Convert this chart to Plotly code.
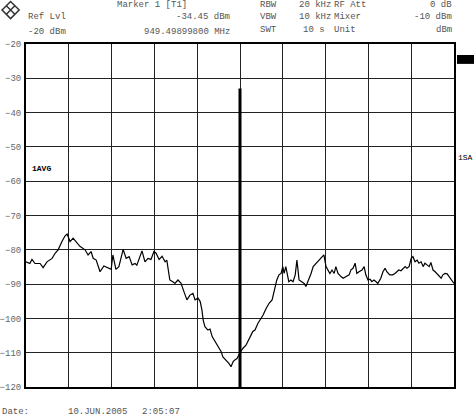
import plotly.graph_objects as go

# trace position in screen divisions (0..10) and level in dBm
div_x = [0.00, 0.09, 0.14, 0.21, 0.33, 0.40, 0.49, 0.61, 0.68, 0.75,
         0.84, 0.91, 0.96, 1.03, 1.10, 1.17, 1.26, 1.38, 1.45, 1.52,
         1.57, 1.64, 1.73, 1.82, 1.92, 1.99, 2.03, 2.10, 2.17, 2.27,
         2.34, 2.41, 2.48, 2.55, 2.59, 2.66, 2.71, 2.78, 2.85, 2.92,
         2.99, 3.04, 3.11, 3.18, 3.25, 3.29, 3.36, 3.43, 3.48, 3.55,
         3.62, 3.69, 3.76, 3.83, 3.90, 3.95, 4.02, 4.07, 4.11, 4.14,
         4.18, 4.25, 4.30, 4.35, 4.42, 4.49, 4.56, 4.60, 4.67, 4.74,
         4.79, 4.84, 4.88, 4.93,
         5.00, 5.07, 5.14, 5.21, 5.26, 5.30, 5.35, 5.42, 5.49, 5.54,
         5.61, 5.68, 5.75, 5.79, 5.84, 5.86, 5.91, 5.96, 6.00, 6.03,
         6.07, 6.10, 6.14, 6.19, 6.24, 6.29, 6.33, 6.38, 6.43, 6.50,
         6.54, 6.59, 6.66, 6.71, 6.78, 6.82, 6.87, 6.92, 6.96, 7.01,
         7.06, 7.10, 7.15, 7.20, 7.24, 7.29, 7.36, 7.41, 7.48, 7.55,
         7.59, 7.64, 7.69, 7.73, 7.78, 7.85, 7.90, 7.94, 7.99, 8.04,
         8.08, 8.13, 8.18, 8.22, 8.29, 8.34, 8.39, 8.43, 8.50, 8.57,
         8.62, 8.67, 8.71, 8.76, 8.81, 8.86, 8.90, 8.95, 9.00, 9.04,
         9.09, 9.14, 9.18, 9.23, 9.28, 9.32, 9.37, 9.42, 9.46, 9.51,
         9.56, 9.60, 9.65, 9.70, 9.74, 9.79, 9.84, 9.88, 9.93, 9.98,
         10.00]
level_dbm = [-83.5, -84, -82.8, -84, -84, -85.2, -83.5, -82.5, -81, -80,
             -77.6, -76, -75.4, -77.6, -76.6, -77.6, -79, -80, -81.5, -80.5,
             -82.5, -83, -86.4, -84.7, -85.4, -85.7, -81.5, -85.7, -84.9, -79.9,
             -82.5, -82, -84.4, -84, -84.5, -82, -80.3, -83.5, -82.5, -82.8,
             -80.5, -81, -82.8, -81.9, -83.5, -83, -88.8, -89.3, -89.8, -88.8,
             -89.7, -92.2, -94.6, -93.2, -92.7, -94.6, -94.1, -95.1, -97.5, -100.5,
             -102.4, -103.4, -103.1, -105.3, -106.8, -108.2, -109.7, -111.2, -112.1, -113.1,
             -114.1, -112.6, -112.1, -111.7,
             -110, -108.7, -107.8, -105.8, -104.8, -103.8, -103.4, -101.4, -100, -99,
             -97.1, -95.6, -94.6, -92.3, -90.3, -88.8, -87.3, -86.9, -84.9, -86.9,
             -84.9, -87.3, -89.3, -88.8, -89.3, -87.3, -83, -88.8, -89.3, -89.8,
             -90.7, -89.3, -86.9, -84.9, -83.9, -83.5, -82.5, -82, -81.5, -84.9,
             -85.9, -86.9, -85.9, -86.9, -84.9, -86.9, -87.8, -88.3, -87.8, -87.3,
             -85.9, -85.4, -83.9, -86.9, -86.4, -85.9, -84.9, -87.3, -88.8, -88.6,
             -89.3, -88.8, -89.3, -89.8, -88.3, -86.4, -85.4, -86.4, -87.3, -87.3,
             -86.9, -86.4, -85.9, -86.1, -85.4, -84.9, -85.4, -84.9, -82.5, -82,
             -83.5, -83, -83.9, -83.5, -84.9, -83.9, -84.4, -84.9, -83.7, -85.9,
             -86.4, -87, -87.8, -88.3, -87.3, -86.9, -87, -87.8, -88.8, -89.6,
             -89.8]

y_ticks = [-20, -30, -40, -50, -60, -70, -80, -90, -100, -110, -120]
marker_div = 5
marker_top = -33

# header text rows: (text, x paper, y paper, anchor)
header = [
    ("Marker 1 [T1]", 0.208, 1.114, "left"),
    ("Ref Lvl", 0.0, 1.079, "left"),
    ("-34.45 dBm", 0.481, 1.079, "right"),
    ("-20 dBm", 0.0, 1.035, "left"),
    ("949.49899800 MHz", 0.481, 1.035, "right"),
    ("RBW", 0.542, 1.114, "left"),
    ("20 kHz", 0.633, 1.114, "left"),
    ("RF Att", 0.715, 1.114, "left"),
    ("0 dB", 1.0, 1.114, "right"),
    ("VBW", 0.542, 1.079, "left"),
    ("10 kHz", 0.633, 1.079, "left"),
    ("Mixer", 0.715, 1.079, "left"),
    ("-10 dBm", 1.0, 1.079, "right"),
    ("SWT", 0.542, 1.041, "left"),
    ("10 s", 0.642, 1.041, "left"),
    ("Unit", 0.715, 1.041, "left"),
    ("dBm", 1.0, 1.041, "right"),
    ("Date:", -0.061, -0.072, "left"),
    ("10.JUN.2005", 0.093, -0.072, "left"),
    ("2:05:07", 0.266, -0.072, "left"),
]

fig = go.Figure()
fig.add_trace(go.Scatter(x=div_x, y=level_dbm, mode="lines",
                         line=dict(color="black", width=1.2), showlegend=False))

# marker line
fig.add_shape(type="line", x0=marker_div, x1=marker_div, y0=marker_top, y1=-120,
              xref="x", yref="y", line=dict(color="black", width=3))

mono = "Liberation Mono"
for txt, x, y, anc in header:
    fig.add_annotation(text=txt, x=x, y=y, xref="paper", yref="paper",
                       xanchor=anc, yanchor="middle", showarrow=False,
                       font=dict(family=mono, size=9, color="#555555"))

fig.add_annotation(text="<b>1AVG</b>", x=0.009, y=0.638, xref="paper", yref="paper",
                   xanchor="left", yanchor="middle", showarrow=False,
                   font=dict(family=mono, size=8, color="black"))
fig.add_annotation(text="1SA", x=1.005, y=0.668, xref="paper", yref="paper",
                   xanchor="left", yanchor="middle", showarrow=False,
                   font=dict(family=mono, size=8, color="black"))
# little black block on the right
fig.add_shape(type="rect", x0=1.007, x1=1.047, y0=0.942, y1=0.968,
              xref="paper", yref="paper", fillcolor="black", line=dict(width=0))

# R&S logo diamond
cx, cy, dx, dy = -0.036, 1.099, 0.02, 0.025
fig.add_shape(type="path", xref="paper", yref="paper",
              path=f"M {cx-dx},{cy} L {cx},{cy+dy} L {cx+dx},{cy} L {cx},{cy-dy} Z",
              line=dict(color="#333", width=1.5), fillcolor="white")
fig.add_shape(type="path", xref="paper", yref="paper",
              path=f"M {cx-dx*0.5},{cy+dy*0.5} L {cx+dx*0.5},{cy-dy*0.5} "
                   f"M {cx-dx*0.5},{cy-dy*0.5} L {cx+dx*0.5},{cy+dy*0.5}",
              line=dict(color="#333", width=1.5))

fig.update_xaxes(range=[0, 10], tick0=0, dtick=1, showticklabels=False, ticks="",
                 showgrid=True, gridcolor="#222", gridwidth=1, zeroline=False,
                 showline=True, mirror=True, linecolor="black", linewidth=2,
                 automargin=False)
fig.update_yaxes(range=[-120, -20], tickvals=y_ticks, ticks="", ticklabelstandoff=1,
                 tickfont=dict(family=mono, size=9, color="#666"),
                 showgrid=True, gridcolor="#222", gridwidth=1, zeroline=False,
                 showline=True, mirror=True, linecolor="black", linewidth=2,
                 automargin=False)
fig.update_layout(width=474, height=419, margin=dict(l=26, r=20, t=44, b=32),
                  paper_bgcolor="white", plot_bgcolor="white")

# drop the default page margin so the figure sits at the window's corner
fig.write_html("out.html", config={"displayModeBar": False},
               post_script="document.body.style.margin='0';")
